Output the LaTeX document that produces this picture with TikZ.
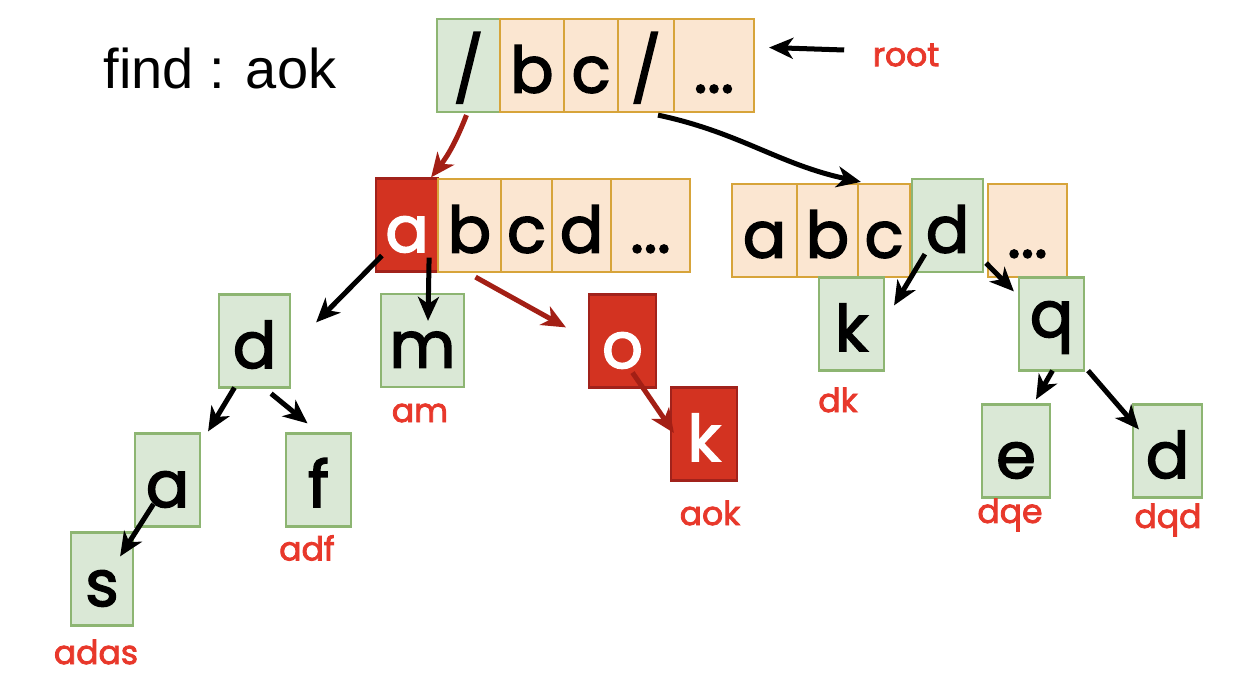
\documentclass[tikz,border=0pt]{standalone}
\usepackage{fontspec}
\setmainfont{Liberation Sans}
\newfontfamily\hand{Poppins}[FakeBold=2.5]
\usetikzlibrary{arrows.meta,calc}
\definecolor{gruenF}{HTML}{DAE8D6}
\definecolor{gruenR}{HTML}{8DB572}
\definecolor{orangeF}{HTML}{FBE6D1}
\definecolor{orangeR}{HTML}{D7A43A}
\definecolor{rotF}{HTML}{D33321}
\definecolor{rotR}{HTML}{A1221B}
\definecolor{rotP}{HTML}{A31F15}
\definecolor{rotT}{HTML}{E8382B}
\newcommand{\pkte}{...}

\begin{document}
\begin{tikzpicture}[x=1pt, y=-1pt,
			zelle/.style={draw, line width=2.2pt, minimum height=93pt, inner sep=0pt,
				text height=62pt, text depth=8pt, font=\hand\fontsize{64}{64}\selectfont},
			gbox/.style={zelle, fill=gruenF, draw=gruenR},
			obox/.style={zelle, fill=orangeF, draw=orangeR},
			rbox/.style={zelle, fill=rotF, draw=rotR, text=white},
			lbl/.style={text=rotT, font=\hand\fontsize{33}{33}\selectfont},
			>={Stealth[length=24pt,width=21pt,inset=7pt]}, %Pfeilspitzen
			pfeil/.style={->, line width=5pt},
			rpfeil/.style={pfeil, draw=rotP, fill=rotP}]
			\useasboundingbox (0,0) rectangle (1240,676);
			% Ueberschrift
			\node (titel) at (220,68) {\fontsize{56}{56}\selectfont find : aok};
			% Wurzel
			\node[gbox, minimum width=63pt] (t1) at (468.5,65.5) {/};
			\foreach \n/\x/\w/\t in {t2/532/64/b, t3/591/54/c, t5/714/80/\pkte}
				\node[obox, minimum width=\w pt] (\n) at (\x,65.5) {\t};
			\node[obox, minimum width=56pt] (t4) at (646,65.5) {/};
			\node[lbl] (root) at (906,55) {root};
			% zweite Ebene links
			\node[rbox, minimum width=62pt] (m1) at (407,225) {a};
			\foreach \n/\x/\w/\t in {m2/469.5/63/b, m3/526.5/51/c, m4/581.5/59/d, m5/650.5/79/\pkte}
				\node[obox, minimum width=\w pt] (\n) at (\x,225.5) {\t};
			% zweite Ebene rechts
			\foreach \n/\x/\w/\t in {r1/764.5/65/a, r2/827.5/61/b, r3/884/52/c, r5/1027.5/79/\pkte}
				\node[obox, minimum width=\w pt] (\n) at (\x,230.5) {\t};
			\node[gbox, minimum width=71pt] (r4) at (947.5,225.5) {d};
			% Blaetter
			\node[gbox, minimum width=71pt] (ld) at (254.5,341) {d};
			\node[gbox, minimum width=65pt] (la) at (167.5,480) {a};
			\node[gbox, minimum width=65pt] (lf) at (318.5,480) {f};
			\node[gbox, minimum width=62pt] (ls) at (102,579) {s};
			\node[gbox, minimum width=83pt] (lm) at (422.5,340.5) {m};
			\node[rbox, minimum width=67pt] (lo) at (622.5,341) {o};
			\node[rbox, minimum width=66pt] (lk) at (704,434) {k};
			\node[gbox, minimum width=65pt] (rk) at (851.5,324) {k};
			\node[gbox, minimum width=65pt, text height=47pt, text depth=21pt] (rq) at (1051.5,324) {q};
			\node[gbox, minimum width=68pt] (re) at (1016,451) {e};
			\node[gbox, minimum width=69pt] (rd) at (1167.5,451) {d};
			% Pfade beschriften
			\node[lbl] (pam) at (420,413) {am};
			\node[lbl] (paok) at (710,513) {aok};
			\node[lbl] (padf) at (307,548) {adf};
			\node[lbl] (padas) at (96,652) {adas};
			\node[lbl] (pdk) at (838,400) {dk};
			\node[lbl] (pdqe) at (1010,515) {dqe};
			\node[lbl] (pdqd) at (1168,520) {dqd};
			% Pfeile
			\draw[pfeil] ($(root.west)+(-25,-5)$) -- ($(t5.east)+(14,-18)$);
			\draw[rpfeil] ($(t1.south)+(-2,2)$) to[bend left=8] ($(m1.north east)+(-8,0)$);
			\draw[pfeil] ($(t4.south)+(12,2)$) to[out=-12,in=168] ($(r3.north west)+(4,-1)$);
			\draw[pfeil] ($(m1.south west)+(7,-17)$) -- ($(ld.north east)+(25,29)$);
			\draw[pfeil] ($(m1.south east)+(-10,-15)$) -- ($(lm.north)+(5.5,28)$);
			\draw[rpfeil] ($(m2.south)+(6,4)$) -- ($(lo.north west)+(-22,34)$);
			\draw[rpfeil] ($(lo.south)+(10,-16)$) -- ($(lk.west)+(4,-1)$);
			\draw[pfeil] ($(r4.south west)+(14,-19)$) -- ($(rk.north east)+(9,29)$);
			\draw[pfeil] ($(r4.south east)+(2,-10)$) -- ($(rq.north west)+(-4,15)$);
			\draw[pfeil] ($(rq.south)+(1,-1)$) -- ($(re.north)+(20,-4)$);
			\draw[pfeil] ($(rq.south east)+(3,-1)$) -- ($(rd.north west)+(7,26)$);
			\draw[pfeil] ($(ld.south)+(-20,-1)$) -- ($(la.north east)+(7,-1)$);
			\draw[pfeil] ($(ld.south east)+(-20,5)$) -- ($(lf.north)+(-11,-9)$);
			\draw[pfeil] ($(la.center)+(-14,24)$) -- ($(ls.north east)+(-14,25)$);
		\end{tikzpicture}
\end{document}
